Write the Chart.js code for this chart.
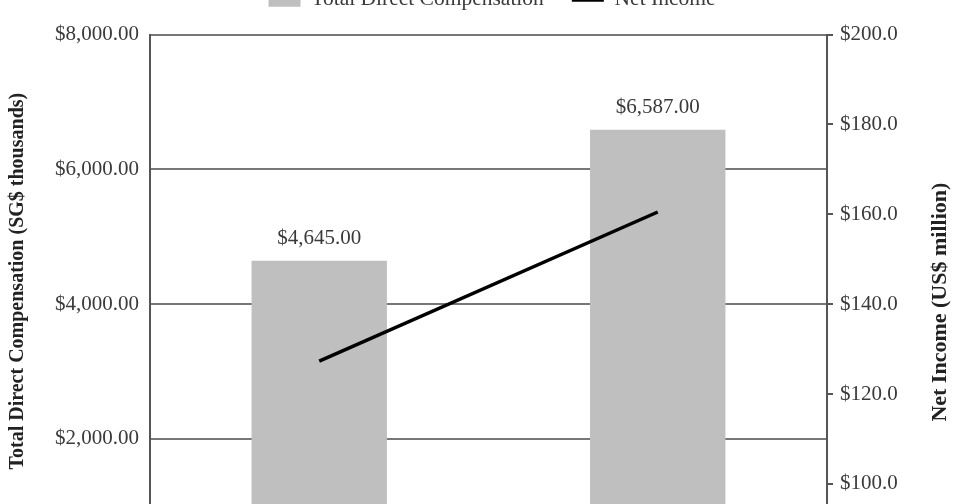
<!DOCTYPE html>
<html>
<head>
<meta charset="utf-8">
<script src="https://cdn.jsdelivr.net/npm/chart.js@4.4.1/dist/chart.umd.min.js"></script>
<style>
  html, body { margin: 0; padding: 0; background: #fff; }
  body { width: 960px; height: 504px; overflow: hidden; position: relative; }
  #wrap { position: absolute; left: 0; top: -39px; width: 960px; height: 656px; }
</style>
</head>
<body>
<div id="wrap"><canvas id="chart"></canvas></div>
<script>
// data
const categories = ["2022", "2023"];
const compensation = [4645, 6587];      // SG$ thousands
const netIncome = [127.3, 160.5];        // US$ million
const leftTicks = [0, 2000, 4000, 6000, 8000];
const rightTicks = [80, 100, 120, 140, 160, 180, 200];
const leftTitle = "Total Direct Compensation (SG$ thousands)";
const rightTitle = "Net Income (US$ million)";

const FONT = "'Liberation Serif', 'Times New Roman', serif";
const TEXT = "#3a3a3a";

const money2 = (v) => "$" + v.toLocaleString("en-US", { minimumFractionDigits: 2, maximumFractionDigits: 2 });
const money1 = (v) => "$" + v.toFixed(1);

// value above each bar
const barLabels = {
  id: "barLabels",
  afterDatasetsDraw(chart) {
    const ctx = chart.ctx;
    const meta = chart.getDatasetMeta(1);
    ctx.save();
    ctx.font = "21px " + FONT;
    ctx.fillStyle = TEXT;
    ctx.textAlign = "center";
    ctx.textBaseline = "middle";
    meta.data.forEach((bar, i) => {
      ctx.fillText(money2(compensation[i]), bar.x, bar.y - 22);
    });
    ctx.restore();
  }
};

// both axis titles read bottom-to-top
function drawSideTitle(ctx, text, x, y, size) {
  ctx.save();
  ctx.translate(x, y);
  ctx.rotate(-Math.PI / 2);
  ctx.font = "bold " + size + "px " + FONT;
  ctx.fillStyle = "#222";
  ctx.textAlign = "center";
  ctx.textBaseline = "middle";
  ctx.fillText(text, 0, 0);
  ctx.restore();
}

const axisTitles = {
  id: "axisTitles",
  afterDraw(chart) {
    const area = chart.chartArea;
    const mid = (area.top + area.bottom) / 2;
    drawSideTitle(chart.ctx, leftTitle, 18, mid - 23, 20);
    drawSideTitle(chart.ctx, rightTitle, 940, mid - 2, 22);
  }
};

// extra room under the legend, and nudge it a little right
const legendTweak = {
  id: "legendTweak",
  beforeInit(chart) {
    const fit = chart.legend.fit;
    chart.legend.fit = function () {
      fit.bind(chart.legend)();
      this.height += 14;
    };
  },
  afterLayout(chart) {
    chart.legend.left += 12;
    chart.legend.right += 12;
  }
};

new Chart(document.getElementById("chart"), {
  data: {
    labels: categories,
    datasets: [
      {
        type: "line",
        label: "Net Income",
        data: netIncome,
        yAxisID: "right",
        borderColor: "#000",
        backgroundColor: "#000",
        borderWidth: 3.5,
        pointRadius: 0,
        tension: 0,
        order: 0
      },
      {
        type: "bar",
        label: "Total Direct Compensation",
        data: compensation,
        yAxisID: "left",
        backgroundColor: "#bfbfc0",
        borderWidth: 0,
        barPercentage: 0.4,
        categoryPercentage: 1,
        order: 1
      }
    ]
  },
  options: {
    responsive: true,
    maintainAspectRatio: false,
    animation: false,
    layout: { padding: { top: 0, right: 0, bottom: 4, left: 0 } },
    plugins: {
      tooltip: { enabled: false },
      legend: {
        position: "top",
        reverse: true,
        labels: {
          font: { family: FONT, size: 21.5 },
          color: TEXT,
          usePointStyle: true,
          pointStyleWidth: 32,
          boxHeight: 14,
          padding: 28,
          generateLabels(chart) {
            const items = Chart.defaults.plugins.legend.labels.generateLabels(chart);
            items.forEach((it) => {
              if (it.datasetIndex === 0) {
                it.pointStyle = "line";
                it.strokeStyle = "#000";
                it.lineWidth = 4;
              } else {
                it.pointStyle = "rect";
                it.lineWidth = 0;
              }
            });
            return items;
          }
        }
      }
    },
    scales: {
      x: {
        grid: { display: false },
        border: { display: true, color: "#555", width: 2 },
        ticks: { font: { family: FONT, size: 21 }, color: TEXT }
      },
      left: {
        position: "left",
        min: 0,
        max: 8000,
        afterFit(scale) { scale.width = 150; },
        afterBuildTicks(scale) { scale.ticks = leftTicks.map((v) => ({ value: v })); },
        grid: { color: "#777", lineWidth: 2, drawTicks: false },
        border: { display: true, color: "#555", width: 2 },
        ticks: {
          font: { family: FONT, size: 21 },
          color: TEXT,
          padding: 11,
          callback: (v) => money2(v)
        }
      },
      right: {
        position: "right",
        min: 80,
        max: 200,
        afterFit(scale) { scale.width = 133; },
        afterBuildTicks(scale) { scale.ticks = rightTicks.map((v) => ({ value: v })); },
        grid: { drawOnChartArea: false, drawTicks: true, tickLength: 6, color: "#555", lineWidth: 2 },
        border: { display: true, color: "#555", width: 2 },
        ticks: {
          font: { family: FONT, size: 21 },
          color: TEXT,
          padding: 7,
          callback: (v) => money1(v)
        }
      }
    }
  },
  plugins: [barLabels, axisTitles, legendTweak]
});
</script>
</body>
</html>
